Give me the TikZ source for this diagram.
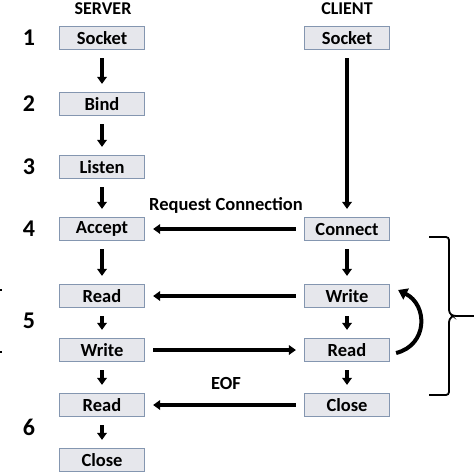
\documentclass[tikz,border=0pt]{standalone}
\usepackage{fontspec}
\setmainfont{Carlito}
\usetikzlibrary{arrows.meta}

\definecolor{boxfill}{RGB}{230,231,236}
\definecolor{boxline}{RGB}{132,150,176}

\begin{document}
\begin{tikzpicture}[x=1pt, y=-1pt, >={Triangle[length=7pt,width=9.5pt]},
  callbox/.style={draw=boxline, fill=boxfill, line width=1.2pt,
    minimum width=85pt, minimum height=23pt, inner sep=0pt,
    font=\fontsize{18.5}{21}\selectfont\bfseries},
  flow/.style={->, line width=3.8pt, shorten <=8pt, shorten >=8pt},
  stepnum/.style={font=\fontsize{24}{28}\selectfont\bfseries},
  side/.style={font=\fontsize{18}{21}\selectfont\bfseries},
  msg/.style={font=\fontsize{18.5}{21}\selectfont\bfseries}]
  \useasboundingbox (0,0) rectangle (474,474);

  % Column titles
  \node[side] (server) at (103,9) {SERVER};
  \node[side] (client) at (347,9) {CLIENT};

  % Server calls
  \node[callbox] (sSocket) at (102,38) {Socket};
  \node[callbox] (sBind)   at (102,104) {Bind};
  \node[callbox] (sListen) at (102,167) {Listen};
  \node[callbox] (sAccept) at (102,229) {Accept};
  \node[callbox] (sRead)   at (102,296) {Read};
  \node[callbox] (sWrite)  at (102,350) {Write};
  \node[callbox] (sReadB)  at (102,405) {Read};
  \node[callbox] (sClose)  at (102,460) {Close};

  % Client calls
  \node[callbox] (cSocket)  at (347,38) {Socket};
  \node[callbox] (cConnect) at (347,229) {Connect};
  \node[callbox] (cWrite)   at (347,296) {Write};
  \node[callbox] (cRead)    at (347,350) {Read};
  \node[callbox] (cClose)   at (347,405) {Close};

  % Step numbers
  \foreach \n/\y in {1/38, 2/104, 3/167, 4/229, 5/321, 6/427} {
    \node[stepnum] (num\n) at (29,\y) {\n};
  }

  % Server sequence
  \foreach \a/\b in {sSocket/sBind, sBind/sListen, sListen/sAccept, sAccept/sRead,
                     sRead/sWrite, sWrite/sReadB, sReadB/sClose} {
    \draw[flow] (\a) -- (\b);
  }

  % Client sequence
  \foreach \a/\b in {cSocket/cConnect, cConnect/cWrite, cWrite/cRead, cRead/cClose} {
    \draw[flow] (\a) -- (\b);
  }

  % Messages between the two sides
  \draw[flow] (cConnect) -- (sAccept);
  \node[msg] (request) at (226,205) {Request Connection};
  \draw[flow] (cWrite) -- (sRead);
  \draw[flow] (sWrite) -- (cRead);
  \draw[flow] (cClose) -- (sReadB);
  \node[msg] (eof) at (226,383) {EOF};

  % Loop back from Read to Write
  \draw[-{Triangle[length=9pt,width=12pt]}, line width=4pt] ([xshift=6pt,yshift=-3pt]cRead.east)
    .. controls (428,345) and (428,305) .. ([xshift=8pt,yshift=6pt]cWrite.east);

  % Bracket round steps 4-6 on the client side
  \draw[line width=1.8pt, rounded corners=3pt]
    (429,237) -- (449,237) -- (449,313) -- (453,316) -- (474,316);
  \draw[line width=1.8pt, rounded corners=3pt]
    (429,395) -- (449,395) -- (449,319) -- (453,316);

  % Cut-off marks on the left edge
  \draw[line width=1.8pt] (0,290) -- (2,290);
  \draw[line width=1.8pt] (0,352) -- (2,352);
\end{tikzpicture}
\end{document}
